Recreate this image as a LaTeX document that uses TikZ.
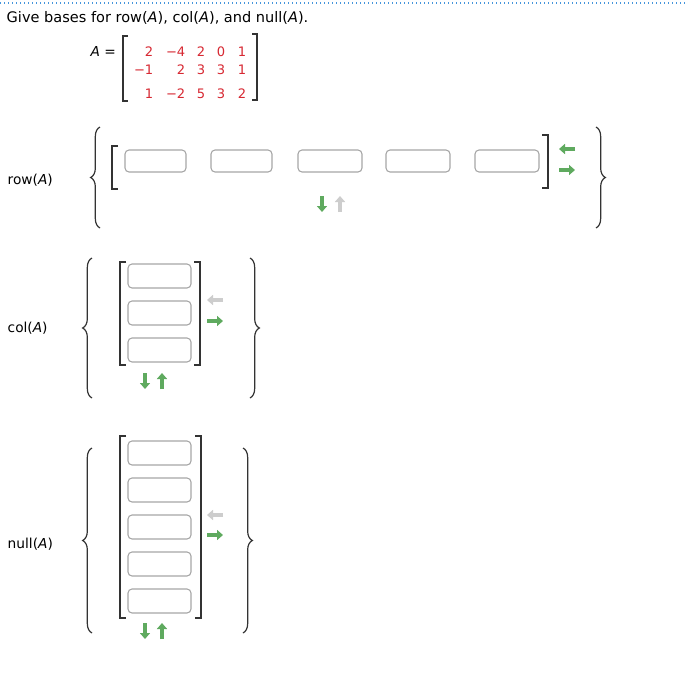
\documentclass[tikz,border=0pt]{standalone}
\usepackage{fontspec}
\setmainfont{DejaVu Sans}
\usetikzlibrary{arrows.meta,decorations.pathreplacing}
\definecolor{mred}{RGB}{215,40,50}
\definecolor{ga}{RGB}{95,170,95}
\definecolor{gr}{RGB}{205,205,205}
\definecolor{bdot}{RGB}{70,150,220}
\tikzset{
 ibox/.style={draw=gray!70,rounded corners=3pt,line width=0.8pt},
 brk/.style={draw=black!80,line width=0.8pt},
 brc/.style={draw=black!80,line width=0.9pt,decorate,decoration={brace,amplitude=7pt}},
 arrw/.style={line width=3pt,-{Triangle[width=7.5pt,length=4.5pt]}},
 lab/.style={font=\fontsize{10.3pt}{12pt}\selectfont,anchor=west},
 num/.style={text=mred,font=\fontsize{9.8pt}{12pt}\selectfont,anchor=east}
}
\begin{document}
\begin{tikzpicture}[x=0.75pt,y=-0.75pt]
\useasboundingbox (0,0) rectangle (686,700);
\fill[white] (0,0) rectangle (686,700);
\draw[bdot,dotted,line width=1pt] (0,3) -- (686,3);
\node[lab,font=\fontsize{10.9pt}{12pt}\selectfont] (title) at (2,18) {Give bases for row(\textit{A}), col(\textit{A}), and null(\textit{A}).};
% matrix
\node[lab] (aeq) at (86,51) {\textit{A} =};
\draw[brk] (128,36) -- (123,36) -- (123,101) -- (128,101);
\draw[brk] (252,34) -- (257,34) -- (257,100) -- (252,100);
\foreach \r/\y in {{2,−4,2,0,1}/52,{−1,2,3,3,1}/70,{1,−2,5,3,2}/94}{
 \foreach \v [count=\i] in \r {
  \pgfmathsetmacro\xx{{0,158,190,210,230,251}[\i]}
  \node[num] (m\i\y) at (\xx,\y) {\v};
 }}
% row(A)
\node[lab] (rowl) at (3,180) {row(\textit{A})};
\draw[brc] (100,228) -- (100,127);
\draw[brk] (118,146) -- (112,146) -- (112,189) -- (118,189);
\foreach \a/\b [count=\k] in {125/186,211/272,298/362,386/450,475/539}
 \draw[ibox] (\a,150) rectangle (\b,172) node[midway] (rb\k) {};
\draw[brk] (542,135) -- (548,135) -- (548,188) -- (542,188);
\draw[arrw,ga] (575,149) -- (559,149);
\draw[arrw,ga] (559,170) -- (575,170);
\draw[arrw,ga] (322,196) -- (322,212);
\draw[arrw,gr] (340,212) -- (340,196);
\draw[brc] (596,127) -- (596,228);
% col(A)
\node[lab] (coll) at (3,328) {col(\textit{A})};
\draw[brc] (92,398) -- (92,258);
\draw[brk] (126,262) -- (120,262) -- (120,365) -- (126,365);
\foreach \a [count=\k] in {264,301,338}
 \draw[ibox] (128,\a) rectangle (191,\a+24) node[midway] (cb\k) {};
\draw[brk] (194,262) -- (200,262) -- (200,365) -- (194,365);
\draw[arrw,gr] (223,300) -- (207,300);
\draw[arrw,ga] (207,321) -- (223,321);
\draw[arrw,ga] (145,373) -- (145,389);
\draw[arrw,ga] (162,389) -- (162,373);
\draw[brc] (250,258) -- (250,398);
% null(A)
\node[lab] (nulll) at (3,544) {null(\textit{A})};
\draw[brc] (92,633) -- (92,448);
\draw[brk] (126,436) -- (120,436) -- (120,618) -- (126,618);
\foreach \a [count=\k] in {441,478,515,552,589}
 \draw[ibox] (128,\a) rectangle (191,\a+24) node[midway] (nb\k) {};
\draw[brk] (195,436) -- (201,436) -- (201,618) -- (195,618);
\draw[arrw,gr] (223,515) -- (207,515);
\draw[arrw,ga] (207,535) -- (223,535);
\draw[arrw,ga] (145,623) -- (145,639);
\draw[arrw,ga] (162,639) -- (162,623);
\draw[brc] (243,448) -- (243,633);
\end{tikzpicture}
\end{document}
